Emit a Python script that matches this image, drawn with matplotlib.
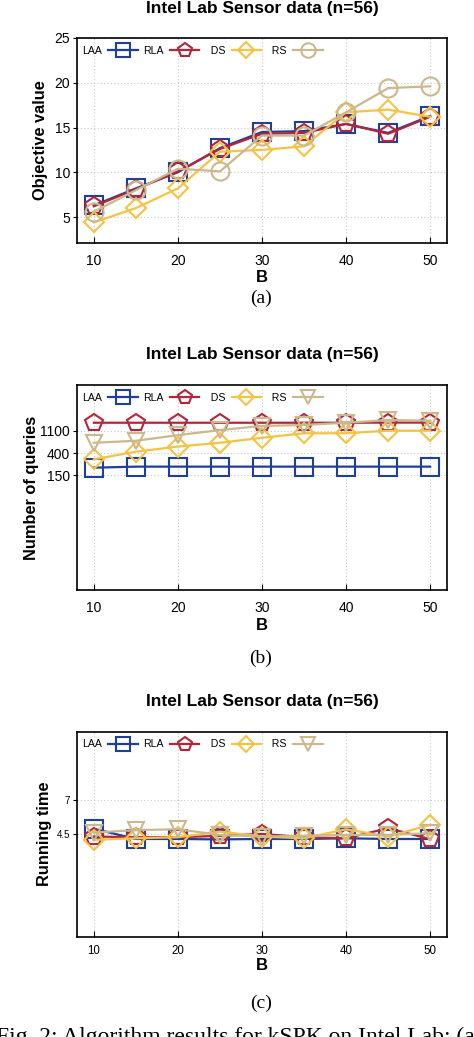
import matplotlib
matplotlib.use("Agg")
import matplotlib.pyplot as plt

plt.rcParams['font.family'] = ['Liberation Sans', 'DejaVu Sans']

B = [10, 15, 20, 25, 30, 35, 40, 45, 50]
labels = ["LAA", "RLA", "  DS", "  RS"]

# (a) objective value
obj_laa = [6.3, 8.2, 10.0, 12.7, 14.5, 14.6, 15.4, 14.4, 16.3]
obj_rla = [6.2, 8.1, 10.1, 12.6, 14.3, 14.4, 15.4, 14.3, 16.2]
obj_ds = [4.4, 6.0, 8.2, 12.3, 12.5, 12.9, 16.7, 17.0, 16.2]
obj_rs = [5.6, 8.0, 10.4, 10.1, 14.1, 14.1, 16.7, 19.4, 19.6]

# (b) number of queries (log scale)
q_laa = [210, 220, 220, 220, 220, 220, 220, 220, 220]
q_rla = [1570, 1570, 1570, 1570, 1570, 1570, 1570, 1580, 1580]
q_ds = [305, 430, 540, 640, 800, 980, 980, 1100, 1100]
q_rs = [640, 700, 900, 1130, 1360, 1420, 1570, 1770, 1720]

# (c) running time
t_laa = [4.9, 4.15, 4.15, 4.12, 4.15, 4.15, 4.2, 4.15, 4.15]
t_rla = [4.33, 4.28, 4.28, 4.38, 4.52, 4.28, 4.2, 4.94, 4.14]
t_ds = [4.09, 4.2, 4.28, 4.69, 4.33, 4.2, 4.86, 4.33, 5.18]
t_rs = [4.62, 4.8, 4.86, 4.45, 4.33, 4.38, 4.45, 4.45, 4.57]

colors = ['#1e3f9c', '#b3253a', '#f5c344', '#cbb98d']
markers_a = ['s', 'p', 'D', 'o']
markers_bc = ['s', 'p', 'D', 'v']

W, H = 474, 1037
fig = plt.figure(figsize=(W / 100, H / 100), dpi=100)


def make_axes(top_px):
    return fig.add_axes([77 / W, (H - top_px - 205) / H, 370 / W, 205 / H])


def draw(ax, series, markers, ylabel, ylab_x, xlab_y, tick_fs, ytick_fs):
    sizes = {'s': 13, 'p': 13, 'D': 10, 'o': 13, 'v': 12}
    for vals, c, m, lab in zip(series, colors, markers, labels):
        ax.plot(B, vals, color=c, marker=m, markersize=sizes[m], markerfacecolor='none',
                markeredgecolor=c, markeredgewidth=1.5, linewidth=1.6, label=lab)
    ax.set_xlim(8, 52)
    ax.set_xticks([10, 20, 30, 40, 50])
    ax.grid(True, color='#c8c8c8', linestyle=(0, (1, 2)), linewidth=0.8)
    ax.tick_params(axis='x', direction='in', length=4, labelsize=tick_fs, pad=8)
    ax.tick_params(axis='y', direction='out', length=3, labelsize=ytick_fs, pad=2)
    ax.tick_params(which='minor', length=0)
    for s in ax.spines.values():
        s.set_linewidth(1.2)
    ax.set_ylabel(ylabel, fontsize=11.8, fontweight='bold', va='center')
    ax.yaxis.set_label_coords(ylab_x, 0.5)
    ax.set_xlabel('B', fontsize=12, fontweight='bold', va='center')
    ax.xaxis.set_label_coords(0.5, xlab_y)
    ax.text(0.5, 1 + 30 / 205, 'Intel Lab Sensor data (n=56)', transform=ax.transAxes,
            ha='center', va='center', fontsize=12.5, fontweight='bold')
    ax.legend(ncol=4, loc='center left', bbox_to_anchor=(5 / 370, 1 - 12.7 / 205),
              frameon=False, markerfirst=False, borderpad=0, borderaxespad=0,
              handlelength=2.8, handletextpad=0.6, columnspacing=0.5,
              fontsize=7.6, markerscale=0.8)


ax1 = make_axes(38)
draw(ax1, [obj_laa, obj_rla, obj_ds, obj_rs], markers_a, 'Objective value', -0.1, -35 / 205, 10, 10)
ax1.set_ylim(2.1, 25)
ax1.set_yticks([5, 10, 15, 20, 25])

ax2 = make_axes(385)
ax2.set_yscale('log')
draw(ax2, [q_laa, q_rla, q_ds, q_rs], markers_bc, 'Number of queries', -0.122, -35 / 205, 10, 10)
ax2.set_ylim(0.88, 8500)
ax2.set_yticks([150, 400, 1100])
ax2.set_yticklabels(['150', '400', '1100'])
ax2.yaxis.set_minor_locator(matplotlib.ticker.NullLocator())

ax3 = make_axes(731.7)
draw(ax3, [t_laa, t_rla, t_ds, t_rs], markers_bc, 'Running time', -0.089, -28.3 / 205, 8.3, 7)
ax3.set_ylim(-3, 12)
ax3.set_yticks([4.5, 7])
ax3.set_yticklabels(['4.5', '7'])
ax3.tick_params(axis='x', pad=6)

serif = ['Liberation Serif', 'DejaVu Serif']
for y, t in [(298, '(a)'), (658, '(b)'), (1003, '(c)')]:
    fig.text(261 / W, 1 - y / H, t, ha='center', va='center', fontsize=14, family=serif)

# figure caption, cut by the bottom edge as in the source page
fig.text(-4 / W, 1 - 1043 / H, 'Fig. 2: Algorithm results for kSPK on Intel Lab: (a) objective value',
         ha='left', va='baseline', fontsize=17, family=serif)

fig.savefig('out.png', dpi=100)
